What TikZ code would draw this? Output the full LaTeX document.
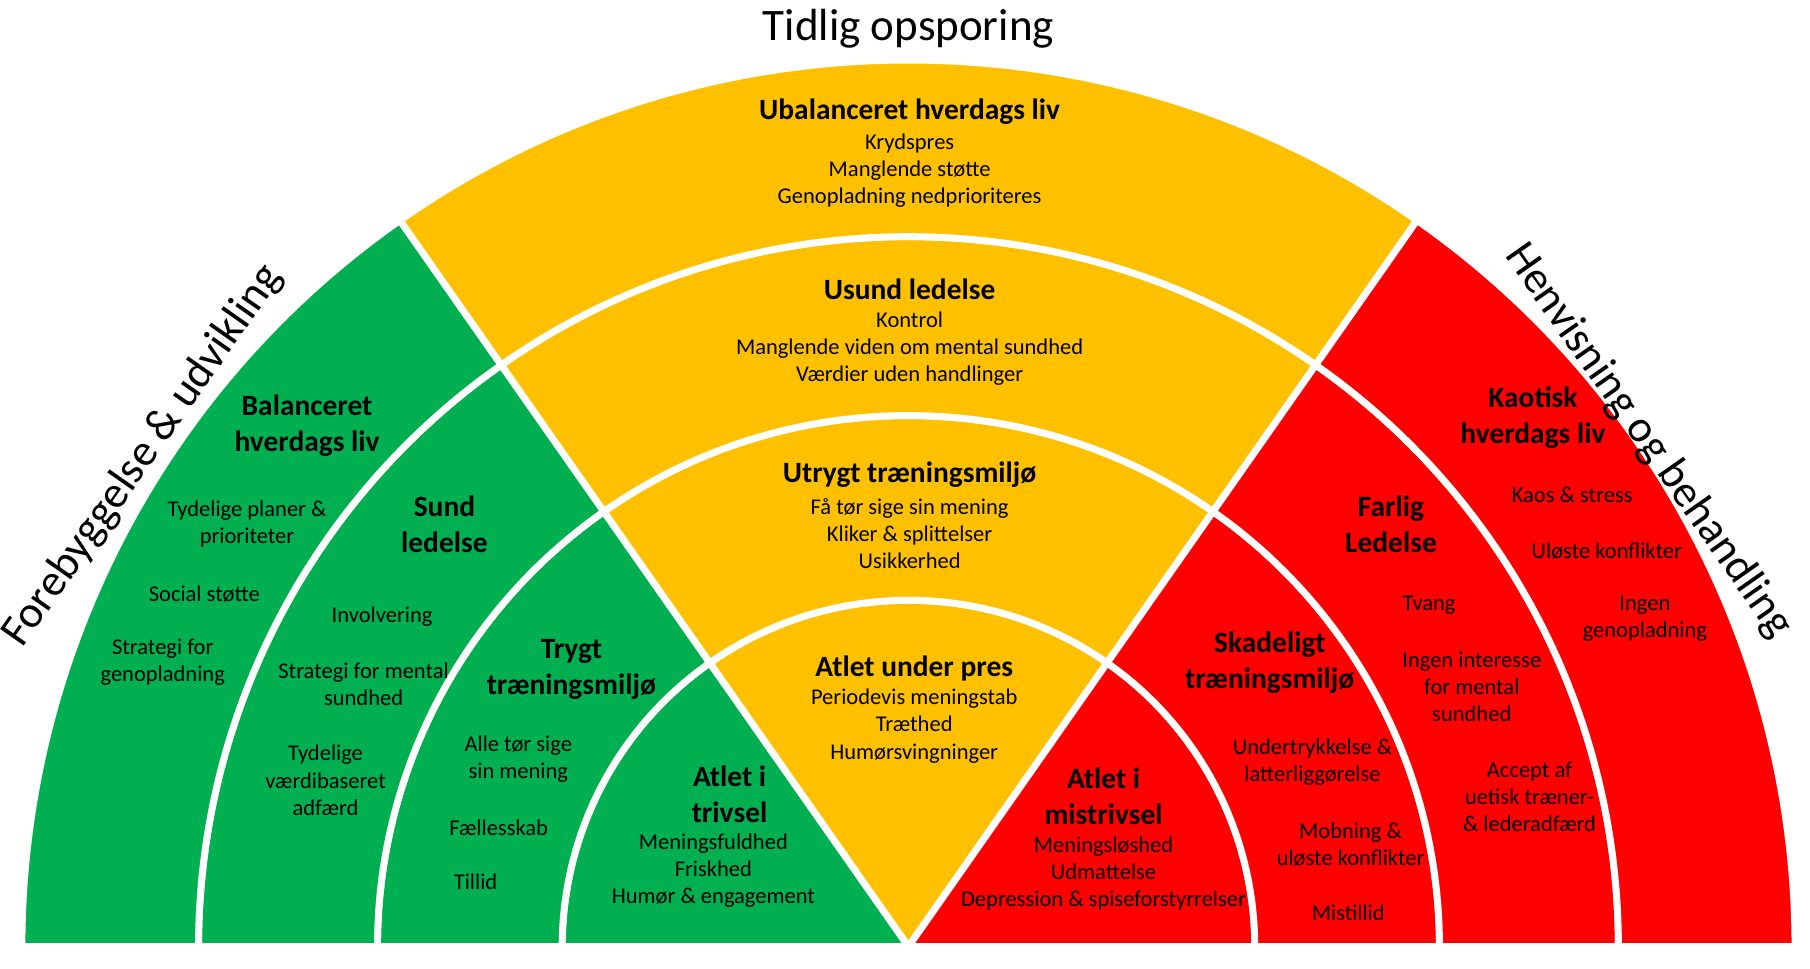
\documentclass[tikz,border=0pt]{standalone}
\usepackage{fontspec}
\setmainfont{Carlito}
\definecolor{cg}{HTML}{00B050}
\definecolor{cy}{HTML}{FFC000}
\definecolor{cr}{HTML}{FF0000}
\begin{document}
\begin{tikzpicture}[x=1pt,y=1pt,
 seg/.style={draw=white,line width=6pt,line join=miter},
 hd/.style={font=\fontsize{25.5}{31}\selectfont\bfseries,align=center,inner sep=0},
 bd/.style={font=\fontsize{19.5}{23.5}\selectfont,align=center,inner sep=0},
 big/.style={font=\fontsize{39}{44}\selectfont,inner sep=0}]
\useasboundingbox (0,0) rectangle (1568,839);
\coordinate (c) at (787,19);
\newcommand{\band}[5]{% color, a1, a2, rin, rout
 \fill[#1,seg] ([shift={(#2:#4)}]c) arc (#2:#3:#4) -- ([shift={(#3:#5)}]c) arc (#3:#2:#5) -- cycle;}
\foreach \ri/\ro in {0/300,300/460,460/615,615/768}{
 \band{cg}{125}{180}{\ri}{\ro}
 \band{cy}{55}{125}{\ri}{\ro}
 \band{cr}{0}{55}{\ri}{\ro}}
\newcommand{\T}[4][bd]{\node[#1] (#2) at (#3) {#4};}
% top titles
\node[big] (t) at (787,814) {Tidlig opsporing};
\node[big,rotate=55] (l) at (124,444) {Forebyggelse \& udvikling};
\node[big,rotate=-55] (r) at (1428,457) {Henvisning og behandling};
% yellow
\T[hd]{y1}{788,742}{Ubalanceret hverdags liv}
\T{y1b}{788,691}{Krydspres\\Manglende støtte\\Genopladning nedprioriteres}
\T[hd]{y2}{788,588}{Usund ledelse}
\T{y2b}{788,537}{Kontrol\\Manglende viden om mental sundhed\\Værdier uden handlinger}
\T[hd]{y3}{788,428}{Utrygt træningsmiljø}
\T{y3b}{788,377}{Få tør sige sin mening\\Kliker \& splittelser\\Usikkerhed}
\T[hd]{y4}{792,260}{Atlet under pres}
\T{y4b}{792,210}{Periodevis meningstab\\Træthed\\Humørsvingninger}
% green
\T[hd]{g1}{266,470}{Balanceret\\hverdags liv}
\T{g1a}{214,385}{Tydelige planer \&\\prioriteter}
\T{g1b}{177,324}{Social støtte}
\T{g1c}{141,265}{Strategi for\\genopladning}
\T[hd]{g2}{385,385}{Sund\\ledelse}
\T{g2a}{331,305}{Involvering}
\T{g2b}{315,246}{Strategi for mental\\sundhed}
\T{g2c}{282,163}{Tydelige\\værdibaseret\\adfærd}
\T[hd]{g3}{495,259}{Trygt\\træningsmiljø}
\T{g3a}{449,181}{Alle tør sige\\sin mening}
\T{g3b}{432,122}{Fællesskab}
\T{g3c}{412,75}{Tillid}
\T[hd]{g4}{632,151}{Atlet i\\trivsel}
\T{g4b}{618,85}{Meningsfuldhed\\Friskhed\\Humør \& engagement}
% red
\T[hd]{r1}{1328,477}{Kaotisk\\hverdags liv}
\T{r1a}{1362,410}{Kaos \& stress}
\T{r1b}{1392,362}{Uløste konflikter}
\T{r1c}{1425,303}{Ingen\\genopladning}
\T[hd]{r2}{1205,385}{Farlig\\Ledelse}
\T{r2a}{1238,315}{Tvang}
\T{r2b}{1275,244}{Ingen interesse\\for mental\\sundhed}
\T{r2c}{1325,149}{Accept af\\uetisk træner-\\\& lederadfærd}
\T[hd]{r3}{1100,265}{Skadeligt\\træningsmiljø}
\T{r3a}{1137,179}{Undertrykkelse \&\\latterliggørelse}
\T{r3b}{1170,107}{Mobning \&\\uløste konflikter}
\T{r3c}{1168,48}{Mistillid}
\T[hd]{r4}{956,149}{Atlet i\\mistrivsel}
\T{r4b}{956,82}{Meningsløshed\\Udmattelse\\Depression \& spiseforstyrrelser}
\end{tikzpicture}
\end{document}
